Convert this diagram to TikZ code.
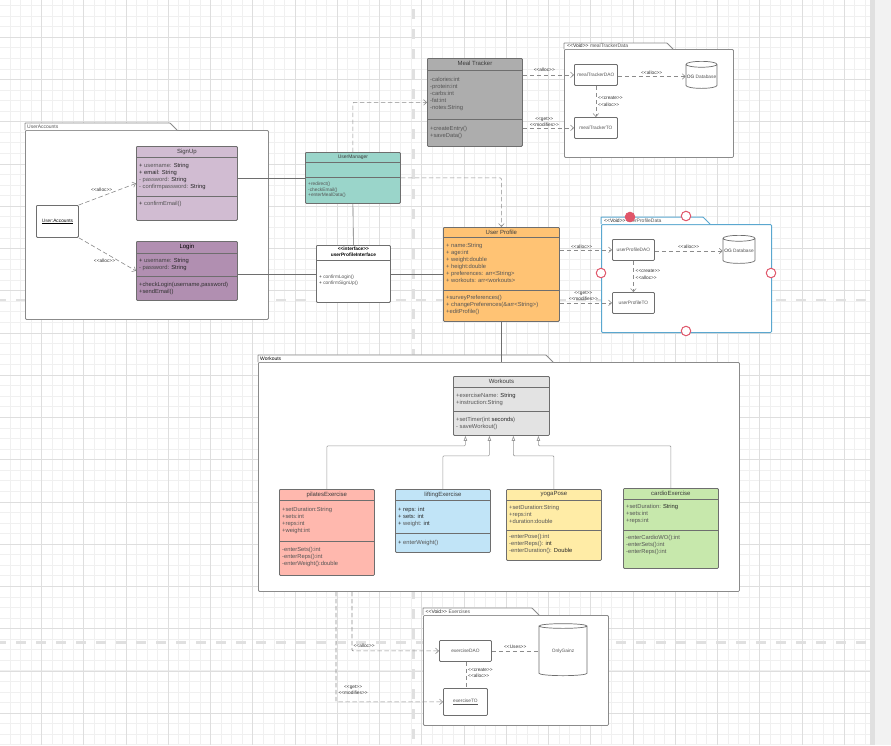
\documentclass[tikz,border=0pt]{standalone}
\usepackage{fontspec}
\setmainfont{Liberation Sans}
\usepackage{xcolor}
\definecolor{colorSignUp}{HTML}{D1BCD2}
\definecolor{colorLogin}{HTML}{B18FB1}
\definecolor{colorManager}{HTML}{9AD5CA}
\definecolor{colorProfile}{HTML}{FFC374}
\definecolor{colorMeal}{HTML}{ADADAD}
\definecolor{colorWorkouts}{HTML}{E3E3E3}
\definecolor{colorPilates}{HTML}{FFB8AE}
\definecolor{colorLifting}{HTML}{C1E4F7}
\definecolor{colorYoga}{HTML}{FFECA6}
\definecolor{colorCardio}{HTML}{C7E8AC}
\definecolor{colorLine}{HTML}{6E6E6E}
\definecolor{colorText}{HTML}{555555}
\definecolor{colorSelect}{HTML}{5AA7CF}
\definecolor{colorHandle}{HTML}{E0566A}
\usetikzlibrary{arrows.meta, positioning, shapes.geometric}
\newcommand{\stereo}[1]{<{}<#1>{}>}
\newcommand{\dk}[1]{\textcolor{black!85}{#1}}
\newcommand{\dividers}[2]{\foreach \d in {#2} \draw[classLine] ([yshift=-\d pt]#1.north west) -- ([yshift=-\d pt]#1.north east);}
\newcommand{\packagetab}[4]{\draw[#4, fill=white, rounded corners=0.5pt] (#1.north west) -- ++(0,-#2) -- ++(#3,0) -- ++(#2,#2);}
\tikzset{
  classBox/.style={draw=colorLine, line width=0.8pt, rounded corners=1pt, anchor=north west, inner sep=0pt},
  classLine/.style={draw=colorLine, line width=0.8pt},
  classTitle/.style={font=\fontsize{6}{7}\selectfont, text=colorText!70!black, inner sep=0pt},
  classText/.style={font=\fontsize{5.8}{7}\selectfont, text=colorText, inner sep=0pt, align=left},
  smallBox/.style={draw=colorLine, fill=white, line width=0.8pt, rounded corners=1pt, anchor=north west, font=\fontsize{4.8}{6}\selectfont, text=colorText, inner sep=0pt},
  package/.style={draw=colorLine!80, fill=white, line width=0.8pt, rounded corners=1pt, anchor=north west, inner sep=0pt},
  tabText/.style={font=\fontsize{5}{6}\selectfont, text=colorText, inner sep=0pt, anchor=west},
  stereoLabel/.style={font=\fontsize{4.8}{6}\selectfont, text=black!80, inner sep=0pt, align=center},
  depend/.style={-{Straight Barb[length=3pt, width=5.5pt]}, dash pattern=on 4.5pt off 2.5pt, draw=colorLine!80, line width=0.6pt, rounded corners=1pt},
  assoc/.style={draw=colorLine, line width=0.6pt},
  inherit/.style={-{Triangle[open, length=5pt, width=3.5pt]}, draw=colorLine!70, line width=0.6pt, rounded corners=1pt},
  database/.style={cylinder, shape border rotate=90, draw=colorLine, fill=white, line width=0.7pt, font=\fontsize{4.8}{6}\selectfont, text=colorText, inner sep=0pt},
  handle/.style={circle, draw=colorHandle, fill=white, line width=1pt, minimum size=9.5pt, inner sep=0pt},
  pageBreak/.style={draw=black!12, line width=2.6pt, dash pattern=on 10pt off 10pt}
}

\begin{document}
\begin{tikzpicture}[x=1pt, y=-1pt, node distance=10pt]
\useasboundingbox (0,0) rectangle (891,745);
% page grid
\foreach \gx in {9.9,20.46,...,870} \draw[black!6, line width=0.8pt] (\gx,0) -- (\gx,745);
\foreach \gy in {5.6,16.16,...,745} \draw[black!6, line width=0.8pt] (0,\gy) -- (870,\gy);
\foreach \gx in {41.6,83.85,...,870} \draw[black!13, line width=0.8pt] (\gx,0) -- (\gx,745);
\foreach \gy in {37.3,79.55,...,745} \draw[black!13, line width=0.8pt] (0,\gy) -- (870,\gy);
\draw[pageBreak] (-4,300) -- (870,300);
\draw[pageBreak] (-4,642.5) -- (870,642.5);
\draw[pageBreak] (413.5,-11) -- (413.5,745);
\fill[black!12] (870,0) rectangle (875,745);
\fill[black!5] (875,0) rectangle (891,745);

% user accounts
\node[package, minimum width=243pt, minimum height=189pt] (accountsPkg) at (25,130) {};
\packagetab{accountsPkg}{7}{145}{package}
\node[tabText, above right=3.5pt and 2pt of accountsPkg.north west, anchor=west] (accountsTab) {UserAccounts};
\node[smallBox, minimum width=42pt, minimum height=32pt, text=black] (userAccounts) at (36,205) {\underline{\dk{User:}Accounts}};
\node[classBox, fill=colorSignUp, minimum width=101pt, minimum height=74pt] (signUp) at (136,146) {};
\node[classTitle, below=2.5pt of signUp.north] (signUpTitle) {SignUp};
\dividers{signUp}{11,50}
\node[classText, below right=17.4pt and 3pt of signUp.north west] (signUpAttr) {\dk{+} username: \dk{String}\\\dk{+ email: String}\\- password: \dk{String}\\- confirmpassword: \dk{String}};
\node[classText, below right=55.4pt and 3pt of signUp.north west] (signUpOps) {\dk{+} confirmEmail()};
\node[classBox, fill=colorLogin, minimum width=101pt, minimum height=59pt] (login) at (136,241) {};
\node[classTitle, below=3pt of login.north, text=black] (loginTitle) {Login};
\dividers{login}{12,35}
\node[classText, below right=17.4pt and 3pt of login.north west, text=colorText!80!black] (loginAttr) {\dk{+} username: \dk{String}\\- password: \dk{String}};
\node[classText, below right=41.4pt and 3pt of login.north west, text=colorText!60!black] (loginOps) {+checkLogin(username,password)\\+sendEmail()};
\draw[depend] (userAccounts.north east) -- node[stereoLabel, pos=0.4, above=4.5pt] {\stereo{alloc}} (signUp.west);
\draw[depend] (userAccounts.south east) -- node[stereoLabel, pos=0.45, below=6pt] {\stereo{alloc}} (login.west);

% user manager and interface
\node[classBox, fill=colorManager, minimum width=95pt, minimum height=51pt] (userManager) at (305,152) {};
\node[classTitle, below=2.5pt of userManager.north, font=\fontsize{5}{6}\selectfont] (userManagerTitle) {UserManager};
\dividers{userManager}{10,25}
\node[classText, below right=30pt and 3pt of userManager.north west, font=\fontsize{4.8}{5.5}\selectfont] (userManagerOps) {+redirect()\\-checkEmail()\\+enterMealData()};
\node[classBox, fill=white, minimum width=74pt, minimum height=57pt] (profileInterface) at (316,245) {};
\node[classTitle, below=1.5pt of profileInterface.north, align=center, font=\fontsize{4.8}{6.2}\selectfont\bfseries, text=black] (profileInterfaceTitle) {\stereo{interface}\\userProfileInterface};
\dividers{profileInterface}{15}
\node[classText, below right=30pt and 3pt of profileInterface.north west, font=\fontsize{4.8}{6}\selectfont] (profileInterfaceOps) {\dk{+} confirmLogin()\\\dk{+} confirmSignUp()};

% user profile
\node[classBox, fill=colorProfile, minimum width=116pt, minimum height=94pt] (userProfile) at (443,227) {};
\node[classTitle, below=2.5pt of userProfile.north] (userProfileTitle) {User Profile};
\dividers{userProfile}{10,63}
\node[classText, below right=16.5pt and 3pt of userProfile.north west] (userProfileAttr) {+ name:String\\+ age:int\\+ weight:double\\+ height:double\\+ preferences: arr<String>\\+ workouts: arr<workouts>};
\node[classText, below right=68.4pt and 3pt of userProfile.north west] (userProfileOps) {+surveyPreferences()\\+ changePreferences(\&arr<String>)\\+editProfile()};

% meal tracker
\node[classBox, fill=colorMeal, minimum width=95pt, minimum height=88pt] (mealTracker) at (427,58) {};
\node[classTitle, below=2.5pt of mealTracker.north] (mealTrackerTitle) {Meal Tracker};
\dividers{mealTracker}{12,61}
\node[classText, below right=19.4pt and 3pt of mealTracker.north west] (mealTrackerAttr) {-calories:int\\-protein:int\\-carbs:int\\-fat:int\\-notes:String};
\node[classText, below right=68.4pt and 3pt of mealTracker.north west] (mealTrackerOps) {+createEntry()\\+saveData()};
\node[package, minimum width=169pt, minimum height=108pt] (mealPkg) at (564,49) {};
\packagetab{mealPkg}{6}{103}{package}
\node[tabText, above right=3pt and 3pt of mealPkg.north west, anchor=west] (mealTab) {\dk{\stereo{Void}} mealTrackerData};
\node[smallBox, minimum width=43pt, minimum height=21pt] (mealDAO) at (574,64) {mealTrackerDAO};
\node[smallBox, minimum width=43pt, minimum height=21pt] (mealTO) at (574,117) {mealTrackerTO};
\node[database, minimum width=31pt, minimum height=27pt, aspect=0.2] (mealDB) at (701.5,76.5) {\dk{OG} Database};

% user profile data
\node[package, draw=colorSelect, line width=1pt, minimum width=170pt, minimum height=108pt] (profilePkg) at (601,224) {};
\packagetab{profilePkg}{7}{102}{package, draw=colorSelect, line width=1pt}
\node[tabText, above right=3.5pt and 3pt of profilePkg.north west, anchor=west] (profileTab) {\dk{\stereo{Void}} userProfileData};
\node[smallBox, minimum width=42pt, minimum height=21pt] (profileDAO) at (612,239) {userProfileDAO};
\node[smallBox, minimum width=42pt, minimum height=21pt] (profileTO) at (612,292) {userProfileTO};
\node[database, minimum width=32pt, minimum height=28pt, aspect=0.2] (profileDB) at (739,251) {\dk{OG} Database};

% workouts
\node[package, minimum width=481pt, minimum height=229pt] (workoutsPkg) at (258,362) {};
\packagetab{workoutsPkg}{7}{288}{package}
\node[tabText, above right=3.5pt and 2pt of workoutsPkg.north west, anchor=west, text=black] (workoutsTab) {Workouts};
\node[classBox, fill=colorWorkouts, minimum width=96pt, minimum height=59pt] (workouts) at (453,376) {};
\node[classTitle, below=2.5pt of workouts.north] (workoutsTitle) {Workouts};
\dividers{workouts}{11,35}
\node[classText, below right=17.4pt and 3pt of workouts.north west] (workoutsAttr) {+exerciseName: \dk{String}\\+instruction:String};
\node[classText, below right=41.4pt and 3pt of workouts.north west] (workoutsOps) {+setTimer(int \dk{seconds})\\- saveWorkout()};
\node[classBox, fill=colorPilates, minimum width=95pt, minimum height=86pt] (pilates) at (279,489) {};
\node[classTitle, below=2.5pt of pilates.north] (pilatesTitle) {pilatesExercise};
\dividers{pilates}{11,52}
\node[classText, below right=18.4pt and 3pt of pilates.north west] (pilatesAttr) {+setDuration:String\\+sets:int\\+reps:int\\+weight:int};
\node[classText, below right=58.4pt and 3pt of pilates.north west] (pilatesOps) {-enterSets():int\\-enterReps():int\\-enterWeight():double};
\node[classBox, fill=colorLifting, minimum width=95pt, minimum height=63pt] (lifting) at (395,489) {};
\node[classTitle, below=2.5pt of lifting.north] (liftingTitle) {liftingExercise};
\dividers{lifting}{11,44}
\node[classText, below right=18.4pt and 3pt of lifting.north west] (liftingAttr) {\dk{+ reps: int}\\\dk{+ sets: int}\\\dk{+} weight: \dk{int}};
\node[classText, below right=51.4pt and 3pt of lifting.north west] (liftingOps) {\dk{+} enterWeight()};
\node[classBox, fill=colorYoga, minimum width=95pt, minimum height=71pt] (yoga) at (506,489) {};
\node[classTitle, below=2.5pt of yoga.north] (yogaTitle) {yogaPose};
\dividers{yoga}{11,41}
\node[classText, below right=16.4pt and 3pt of yoga.north west] (yogaAttr) {+setDuration:String\\+reps:int\\+duration:double};
\node[classText, below right=45.4pt and 3pt of yoga.north west] (yogaOps) {-enterPose():int\\-enterReps(): \dk{int}\\-enterDuration(): \dk{Double}};
\node[classBox, fill=colorCardio, minimum width=95pt, minimum height=80pt] (cardio) at (623,488) {};
\node[classTitle, below=2.5pt of cardio.north] (cardioTitle) {cardioExercise};
\dividers{cardio}{11,42}
\node[classText, below right=16.4pt and 3pt of cardio.north west] (cardioAttr) {+setDuration: \dk{String}\\+sets:int\\+reps:int};
\node[classText, below right=47.4pt and 3pt of cardio.north west] (cardioOps) {-enterCardioWO():int\\-enterSets():int\\-enterReps():int};

% exercises
\node[package, minimum width=185pt, minimum height=110pt] (exercisePkg) at (423,615) {};
\packagetab{exercisePkg}{7}{109}{package}
\node[tabText, above right=3.5pt and 2.5pt of exercisePkg.north west, anchor=west] (exerciseTab) {\dk{\stereo{Void}} Exercises};
\node[smallBox, minimum width=52pt, minimum height=21pt] (exerciseDAO) at (439,640) {exerciseDAO};
\node[smallBox, minimum width=44pt, minimum height=27pt] (exerciseTO) at (443,688) {\underline{exerciseTO}};
\node[database, minimum width=48pt, minimum height=52pt, aspect=0.21] (exerciseDB) at (563,651) {OnlyGainz};

% connectors
\draw[assoc] (signUp.east |- userManager.west) -- (userManager.west);
\draw[assoc] (login.east |- profileInterface.west) -- (profileInterface.west);
\draw[assoc] (userManager.south) -- (profileInterface.north);
\draw[assoc] (profileInterface.east) -- (userProfile.west |- profileInterface.east);
\draw[assoc] (userProfile.south) -- (userProfile.south |- workoutsPkg.north);
\draw[depend] (userManager.east) -| (userProfile.north);
\draw[depend] (userManager.north) |- (mealTracker.west);
\draw[depend] (mealTracker.east |- mealDAO.west) -- node[stereoLabel, pos=0.42, above=3pt] {\stereo{alloc}} (mealDAO.west);
\draw[depend] (mealTracker.east |- mealTO.west) -- node[stereoLabel, pos=0.42, above=1pt] {\stereo{get}\\\stereo{modifies}} (mealTO.west);
\draw[depend] (mealDAO.east |- mealDB.west) -- node[stereoLabel, above=1.5pt] {\stereo{alloc}} (mealDB.west);
\draw[depend] (mealDAO.south) -- node[stereoLabel, right=2pt, align=left] {\stereo{create}\\[1pt]\stereo{alloc}} (mealTO.north);
\draw[depend] (userProfile.east |- profileDAO.west) -- node[stereoLabel, pos=0.42, above=1pt] {\stereo{alloc}} (profileDAO.west);
\draw[depend] (userProfile.east |- profileTO.west) -- node[stereoLabel, pos=0.45, above=2.5pt] {\stereo{get}\\\stereo{modifies}} (profileTO.west);
\draw[depend] (profileDAO.east |- profileDB.west) -- node[stereoLabel, above=2pt] {\stereo{alloc}} (profileDB.west);
\draw[depend] (profileDAO.south) -- node[stereoLabel, right=2pt, yshift=1.5pt, align=left] {\stereo{create}\\[1pt]\stereo{alloc}} (profileTO.north);
\draw[inherit] (pilates.north) |- ([xshift=-36pt, yshift=-10pt]workouts.south) -- ([xshift=-36pt]workouts.south);
\draw[inherit] (lifting.north) |- ([xshift=-12pt, yshift=-20pt]workouts.south) -- ([xshift=-12pt]workouts.south);
\draw[inherit] (yoga.north) |- ([xshift=12pt, yshift=-20pt]workouts.south) -- ([xshift=12pt]workouts.south);
\draw[inherit] (cardio.north) |- ([xshift=37pt, yshift=-10pt]workouts.south) -- ([xshift=37pt]workouts.south);
\draw[depend] ([xshift=94pt]workoutsPkg.south west) |- node[stereoLabel, pos=0.57, above=3pt] {\stereo{alloc}} (exerciseDAO.west);
\draw[depend] ([xshift=78pt]workoutsPkg.south west) |- node[stereoLabel, pos=0.58, above=7pt] {\stereo{get}\\\stereo{modifies}} (exerciseTO.west);
\draw[depend, -] (exerciseDAO.east) -- node[stereoLabel, above=2pt] {\stereo{Uses}} (exerciseDB.west |- exerciseDAO.east);
\draw[depend, -] ([xshift=0.5pt]exerciseDAO.south) -- node[stereoLabel, right=2pt, yshift=2pt, align=left] {\stereo{create}\\\stereo{alloc}} ([xshift=0.5pt]exerciseTO.north);

% selection handles
\node[handle, fill=colorHandle] (handleTab) at (630,217) {};
\node[handle] (handleTop) at (686,216) {};
\node[handle] (handleLeft) at (601,273) {};
\node[handle] (handleRight) at (771,273) {};
\node[handle] (handleBottom) at (686,331) {};
\end{tikzpicture}
\end{document}
